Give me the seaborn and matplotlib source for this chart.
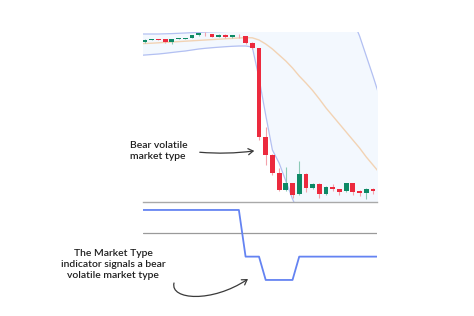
import numpy as np
import pandas as pd
import matplotlib
matplotlib.use("Agg")
import matplotlib.pyplot as plt
from matplotlib.patches import FancyArrowPatch
from matplotlib.path import Path
import seaborn as sns

sns.set_style("white")
plt.rcParams['font.family'] = ['Lato', 'DejaVu Sans']

# ---- data ----
candle_open  = [258, 260.5, 260.8, 260.7, 258, 261, 261.5, 262, 264.7, 266.2, 266, 263.3, 265.3, 262.7, 264.2,
                264, 257.3, 251.7, 163.3, 145, 126.7, 110, 116.7, 106, 126, 111.7, 116, 106, 113.3, 110.7,
                109, 116.7, 109, 106.7, 111.3]
candle_close = [260, 260.9, 260.5, 258, 260.7, 261.5, 262, 264.7, 266.7, 265.8, 263.3, 265.3, 262.7, 264.7, 263.8,
                256.7, 252, 163.3, 145, 126.7, 110, 116.7, 105, 126, 111.7, 116, 106, 113.3, 110.7, 108.3,
                116.7, 108.3, 106.7, 111.3, 108.7]
candle_high  = [261, 261.5, 261.3, 261.5, 261.2, 262, 262.3, 265, 267, 268, 266.3, 265.6, 265.6, 265, 266,
                264.5, 257.8, 252, 173.3, 146, 132, 133, 117.5, 139, 127, 117, 117, 114, 116, 111,
                117.5, 117.5, 110, 112, 112]
candle_low   = [257.5, 260, 260, 257.5, 256, 260.8, 261.2, 261.8, 264.5, 264, 263, 263, 262.4, 262.4, 262,
                256, 251.5, 160, 135, 125, 109, 109.5, 102, 105, 108, 111, 102, 105, 109, 105,
                108.5, 105, 104, 101, 106]

# bands, positions -1 .. 35
band_upper = [266, 266, 266, 266, 266.2, 266.4, 266.7, 267, 267.3, 267.6, 267.9, 268.1, 268.3, 268.5, 268.7, 268.9,
              269.5, 273, 285, 295, 300, 305, 308, 310, 311, 311, 310, 308, 305, 300, 300, 292, 280, 264, 244, 224, 203]
band_mid   = [256.2, 256.5, 256.8, 257.2, 257.6, 258, 258.4, 258.8, 259.2, 259.6, 260, 260.4, 260.8, 261.2, 261.6, 262,
              262.3, 262.2, 260, 256, 251, 245, 239, 232, 224, 217, 209.5, 201, 192, 184, 176, 168, 160, 152, 143, 135, 127]
band_lower = [244.5, 245, 245.5, 246, 246.7, 247.5, 248.3, 249, 250, 251, 251.7, 252.3, 252.8, 253.3, 253.7, 254,
              254, 253, 222, 185, 150, 137, 119, 101, 86, 75, 66, 60, 55, 52, 50, 49, 49, 50, 52, 55, 58]

# market type indicator, positions -1 .. 35
market_type = [1] * 16 + [-1] * 3 + [-2] * 5 + [-1] * 13

text_top = "Bear volatile\nmarket type"
text_bottom = "The Market Type\nindicator signals a bear\nvolatile market type"

# ---- figure ----
W, H = 474, 316
fig = plt.figure(figsize=(W / 100, H / 100), dpi=100)

def fx(px):
    return px / W

def fy(py):
    return 1 - py / H

x0, x1 = 143, 377
ax = fig.add_axes([fx(x0), fy(202), fx(x1) - fx(x0), fy(31.7) - fy(202)])
ax2 = fig.add_axes([fx(x0), fy(290), fx(x1) - fx(x0), fy(204) - fy(290)])

n = len(candle_open)
xi = np.arange(n)
xb = np.arange(-1, n + 1)

bands = pd.DataFrame({"x": xb, "upper": band_upper, "mid": band_mid, "lower": band_lower})
ax.fill_between(bands["x"], bands["lower"], bands["upper"], color="#f3f8fe", lw=0, zorder=0)
sns.lineplot(data=bands, x="x", y="upper", ax=ax, color="#b3c0f2", lw=0.9, zorder=1)
sns.lineplot(data=bands, x="x", y="lower", ax=ax, color="#b3c0f2", lw=0.9, zorder=1)
sns.lineplot(data=bands, x="x", y="mid", ax=ax, color="#f2d3b4", lw=1.0, zorder=1)

red, green = "#ec2a3e", "#0e8a66"
red_w, green_w = "#f3a2ab", "#8ccab6"
o = np.array(candle_open)
c = np.array(candle_close)
up = c >= o
body_lo = np.minimum(o, c)
body_h = np.maximum(np.abs(c - o), 0.7)
ax.vlines(xi, candle_low, candle_high, colors=[green_w if u else red_w for u in up], lw=0.8, zorder=2)
ax.bar(xi, body_h, bottom=body_lo, width=0.72, color=[green if u else red for u in up], lw=0, zorder=3)

ax.set_xlim(-0.3, 34.6)
ax.set_ylim(98, 268.3)
ax.set_xticks([]); ax.set_yticks([])
ax.set_xlabel(""); ax.set_ylabel("")
for s in ["top", "left", "right"]:
    ax.spines[s].set_visible(False)
ax.spines["bottom"].set_color("#a9a9a9")
ax.spines["bottom"].set_linewidth(1.0)
ax.patch.set_alpha(0)

mt = pd.DataFrame({"x": xb, "v": market_type})
ax2.axhline(0, color="#9a9a9a", lw=0.9, zorder=0)
sns.lineplot(data=mt, x="x", y="v", ax=ax2, color="#6483f2", lw=1.3)
ax2.set_xlim(-0.3, 34.6)
ax2.set_ylim((233.3 - 290) / 23.33, (233.3 - 204) / 23.33)
ax2.set_xticks([]); ax2.set_yticks([])
ax2.set_xlabel(""); ax2.set_ylabel("")
for s in ax2.spines.values():
    s.set_visible(False)
ax2.patch.set_alpha(0)

# annotations
fig.text(fx(130), fy(151), text_top, ha="left", va="center", fontsize=7.5,
         color="#1e1e1e", linespacing=1.35, fontweight="semibold")
fig.text(fx(113), fy(264.5), text_bottom, ha="center", va="center", fontsize=7.5,
         color="#1e1e1e", linespacing=1.35, fontweight="semibold")

arr1 = FancyArrowPatch((fx(197), fy(152)), (fx(257), fy(150.5)), transform=fig.transFigure,
                       connectionstyle="arc3,rad=0.06", arrowstyle="->,head_length=3.5,head_width=2.2",
                       color="#3a3a3a", lw=0.9)
fig.add_artist(arr1)

verts = [(fx(174), fy(283)), (fx(170), fy(300)), (fx(212), fy(303)), (fx(248), fy(279))]
path = Path(verts, [Path.MOVETO, Path.CURVE4, Path.CURVE4, Path.CURVE4])
arr2 = FancyArrowPatch(path=path, transform=fig.transFigure,
                       arrowstyle="->,head_length=3.5,head_width=2.2", color="#3a3a3a", lw=0.9)
fig.add_artist(arr2)

fig.savefig("out.png", dpi=100)
